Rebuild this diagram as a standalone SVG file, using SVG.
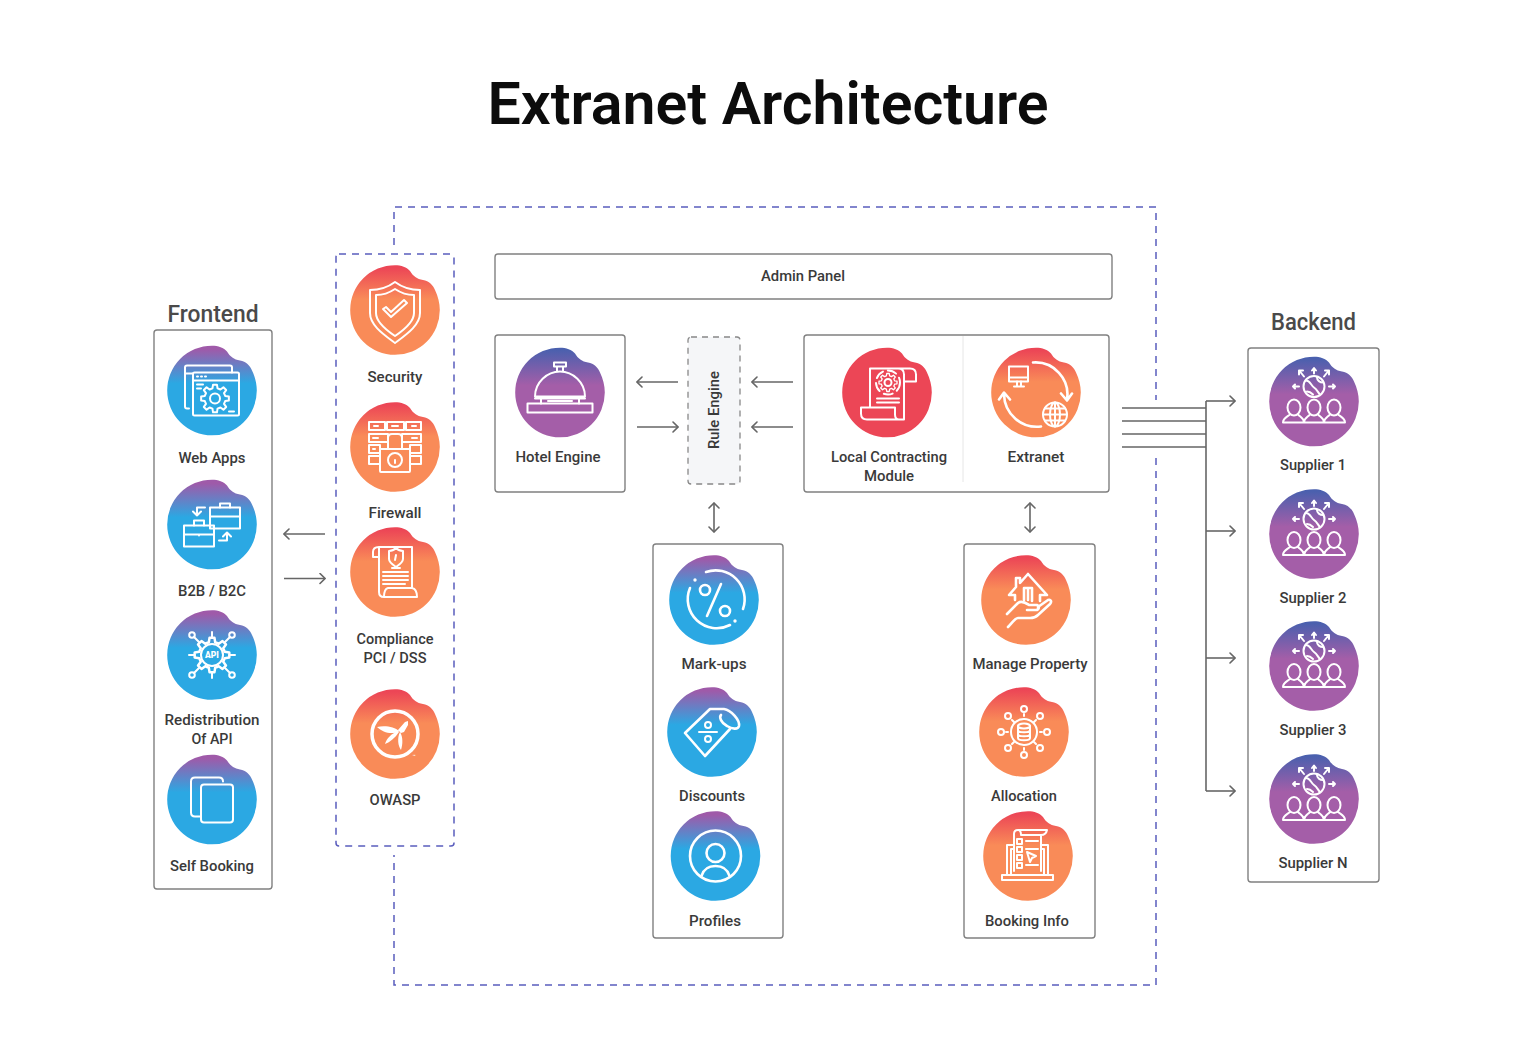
<svg xmlns="http://www.w3.org/2000/svg" width="1536" height="1046" viewBox="0 0 1536 1046">
<style>
text{font-family:Roboto,"Liberation Sans",sans-serif;font-weight:500;font-size:15.5px;fill:#3a3a3a;text-anchor:middle}
.title{font-size:60px;font-weight:600;fill:#0c0c0c}
.head{font-size:23px;font-weight:500;fill:#4a4a4a}
.box{fill:#fff;stroke:#808080;stroke-width:1.4}
.ic{fill:none;stroke:#fff;stroke-width:2;stroke-linecap:round;stroke-linejoin:round}
.thk{stroke-width:2.600}
.icf{fill:#fff;stroke:none}
.ln{fill:none;stroke:#666;stroke-width:1.600}
.dash{fill:none;stroke:#5a5dbd;stroke-width:1.500;stroke-dasharray:7 6}
.api{font-size:8.500px;font-weight:900;fill:#fff}
.tm{font-size:5px;fill:#fff}
</style>
<defs>
<linearGradient id="gBlue" x1="0" y1="0" x2="0" y2="1"><stop offset="0.04" stop-color="#9f5aa9"/><stop offset="0.42" stop-color="#2ba8e3"/></linearGradient>
<linearGradient id="gOrange" x1="0" y1="0" x2="0" y2="1"><stop offset="0.03" stop-color="#ec4656"/><stop offset="0.38" stop-color="#f98b58"/></linearGradient>
<linearGradient id="gPurple" x1="0" y1="0" x2="0" y2="1"><stop offset="0.02" stop-color="#4a60ae"/><stop offset="0.42" stop-color="#a45ea8"/></linearGradient>
<path id="blob" d="M-44.800,0A44.800,44.800 0 0 1 0,-44.800C6,-44.800 12,-43 15,-39C18,-34 22,-31 28,-30C34,-29 38,-25 40,-20C43,-14 44.800,-7 44.800,0A44.800,44.800 0 0 1 -44.800,0Z"/>
<polygon id="gear" class="ic" points="10.19,-2.54 13.86,-1.95 13.86,1.95 10.19,2.54 9,5.41 11.18,8.43 8.43,11.18 5.41,9 2.54,10.19 1.95,13.86 -1.95,13.86 -2.54,10.19 -5.41,9 -8.43,11.18 -11.18,8.43 -9,5.41 -10.19,2.54 -13.86,1.95 -13.86,-1.95 -10.19,-2.54 -9,-5.41 -11.18,-8.43 -8.43,-11.18 -5.41,-9 -2.54,-10.19 -1.95,-13.86 1.95,-13.86 2.54,-10.19 5.41,-9 8.43,-11.18 11.18,-8.43 9,-5.41"/>
<marker id="ah" viewBox="0 0 10 12" refX="9" refY="6" markerWidth="10" markerHeight="12" markerUnits="userSpaceOnUse" orient="auto-start-reverse"><path d="M4,1L9,6L4,11" fill="none" stroke="#666" stroke-width="1.600" stroke-linecap="round"/></marker>
<g id="supplier">
<circle class="ic" cy="-15" r="10.500"/>
<path class="ic" d="M-8,-21C-4,-21 -3,-16 0,-14C3,-12 4,-9 6,-7M-7,-10C-5,-10 -3,-9 -1,-7M3,-24C3,-21 6,-19 9,-19"/>
<path class="ic" d="M0,-28V-33M-2,-31L0,-33.500L2,-31M-10,-25L-14,-30M-15,-27V-31H-11M10,-25L14,-30M15,-27V-31H11M-15,-15H-21M-19,-17L-21,-15L-19,-13M15,-15H21M19,-17L21,-15L19,-13"/>
<ellipse class="ic" cx="-20" cy="6" rx="6.500" ry="8"/><ellipse class="ic" cy="6" rx="6.500" ry="8"/><ellipse class="ic" cx="20" cy="6" rx="6.500" ry="8"/>
<path class="ic" d="M-31,21H31M-31,21C-31,17 -28,16 -24,13M-16,13C-13,16 -10,17 -10,21C-10,17 -7,16 -4,13M4,13C7,16 10,17 10,21C10,17 13,16 16,13M24,13C28,16 31,17 31,21"/>
</g>
</defs>

<g id="title"><text class="title" x="768" y="124" textLength="561" lengthAdjust="spacingAndGlyphs">Extranet Architecture</text></g>

<g id="connectors">
<path class="dash" d="M394,245V207H1156V400M1156,458V985H394V855"/>
<path class="ln" marker-end="url(#ah)" d="M325,534H284"/>
<path class="ln" marker-end="url(#ah)" d="M284,578.500H325"/>
<path class="ln" marker-end="url(#ah)" d="M678,382H637"/>
<path class="ln" marker-end="url(#ah)" d="M637,427H678"/>
<path class="ln" marker-end="url(#ah)" d="M793,382H752"/>
<path class="ln" marker-end="url(#ah)" d="M793,427H752"/>
<path class="ln" marker-start="url(#ah)" marker-end="url(#ah)" d="M714,503V532"/>
<path class="ln" marker-start="url(#ah)" marker-end="url(#ah)" d="M1030,503V532"/>
<path class="ln" d="M1122,408H1206M1122,421H1206M1122,434H1206M1122,447H1206"/>
<path class="ln" d="M1206,401V791"/>
<path class="ln" marker-end="url(#ah)" d="M1206,401H1235"/>
<path class="ln" marker-end="url(#ah)" d="M1206,531H1235"/>
<path class="ln" marker-end="url(#ah)" d="M1206,658H1235"/>
<path class="ln" marker-end="url(#ah)" d="M1206,791H1235"/>
</g>

<g id="frontend">
<text class="head" x="213" y="322" textLength="91" lengthAdjust="spacingAndGlyphs">Frontend</text>
<rect class="box" x="154" y="330" width="118" height="559" rx="3"/>
</g>
<g id="web-apps">
<g transform="translate(212,390.500)"><use href="#blob" fill="url(#gBlue)"/>
<path class="ic" d="M-23,18H-25Q-27,18 -27,16V-23Q-27,-25 -25,-25H18Q20,-25 20,-23V-18M-27,-17H-19"/>
<rect class="ic" x="-19" y="-18" width="46" height="43" rx="1.500"/><path class="ic" d="M-19,-10H27M-15,-14H-14M-11,-14H-10M-7,-14H-6M-15,-6H-9M-15,-2H-11M17,21H22"/>
<use href="#gear" transform="translate(3,8)"/><circle class="ic" cx="3" cy="8" r="5"/></g>
<text x="212" y="463" textLength="67" lengthAdjust="spacingAndGlyphs">Web Apps</text>
</g>
<g id="b2b-b2c">
<g transform="translate(212,524.500)"><use href="#blob" fill="url(#gBlue)"/>
<rect class="ic" x="-2" y="-17" width="30" height="21"/><path class="ic" d="M-2,-8H28M8,-17V-21H18V-17"/>
<rect class="ic" x="-28" y="1" width="30" height="21"/><path class="ic" d="M-28,10H2M-18,1V-4H-8V1M-13,10V11"/>
<path class="ic" d="M-7,-17H-15V-9M-19,-13L-15,-9L-11,-13M7,16H15V8M11,12L15,8L19,12"/></g>
<text x="212" y="596" textLength="68" lengthAdjust="spacingAndGlyphs">B2B / B2C</text>
</g>
<g id="redistribution-of-api">
<g transform="translate(212,655)"><use href="#blob" fill="url(#gBlue)"/>
<use href="#gear" transform="scale(1.250)"/><circle class="ic" r="11"/>
<text class="api" y="3">API</text>
<path class="ic" d="M-13,-13L-18,-18M13,-13L18,-18M-13,13L-18,18M13,13L18,18M0,-18V-23M0,18V23M-18,0H-23M18,0H23"/>
<circle class="ic" cx="-20" cy="-20" r="2.800"/><circle class="ic" cx="20" cy="-20" r="2.800"/><circle class="ic" cx="-20" cy="20" r="2.800"/><circle class="ic" cx="20" cy="20" r="2.800"/></g>
<text x="212" y="725" textLength="95" lengthAdjust="spacingAndGlyphs">Redistribution</text>
<text x="212" y="744" textLength="41" lengthAdjust="spacingAndGlyphs">Of API</text>
</g>
<g id="self-booking">
<g transform="translate(212,799.500)"><use href="#blob" fill="url(#gBlue)"/>
<path class="ic" d="M-12,17H-17Q-21,17 -21,13V-18Q-21,-22 -17,-22H7Q11,-22 11,-18"/>
<rect class="ic" x="-11" y="-15" width="32" height="38" rx="3"/></g>
<text x="212" y="871" textLength="84" lengthAdjust="spacingAndGlyphs">Self Booking</text>
</g>

<g id="security-group"><rect x="336" y="254" width="118" height="592" rx="3" class="dash"/></g>
<g id="security">
<g transform="translate(395,310)"><use href="#blob" fill="url(#gOrange)"/>
<path class="ic" d="M0,-28C8,-22 16,-20 25,-20V3C25,15 12,24 0,33C-12,24 -25,15 -25,3V-20C-16,-20 -8,-22 0,-28Z"/>
<path class="ic" d="M0,-21C6,-17 13,-15 19,-15V3C19,12 9,20 0,26C-9,20 -19,12 -19,3V-15C-13,-15 -6,-17 0,-21Z"/>
<path class="ic" d="M-12,-1L-4,7L12,-7L9,-10L-4,2L-9,-3Z"/></g>
<text x="395" y="382" textLength="55" lengthAdjust="spacingAndGlyphs">Security</text>
</g>
<g id="firewall">
<g transform="translate(395,447)"><use href="#blob" fill="url(#gOrange)"/>
<path class="ic" d="M-26,-25H-10V-17H-26ZM-8,-25H9V-17H-8ZM11,-25H26V-17H11ZM-26,-13H-7V-5H-26ZM7,-13H26V-5H7ZM-26,-2H-15V6H-26ZM15,-2H26V6H15ZM-26,9H-15V17H-26ZM15,9H26V17H15Z"/>
<path class="ic" d="M-7,2V-9Q-7,-13 -3,-13H3Q7,-13 7,-9V2"/>
<rect class="ic" x="-15" y="2" width="30" height="23" rx="1"/><circle class="ic" cy="13" r="7"/><path class="ic" d="M0,13V16M-21,-21H-17M17,-21H21M-3,-21H3M-22,-9H-17M17,-9H22M-22,2H-20"/></g>
<text x="395" y="518" textLength="53" lengthAdjust="spacingAndGlyphs">Firewall</text>
</g>
<g id="compliance">
<g transform="translate(395,572)"><use href="#blob" fill="url(#gOrange)"/>
<path class="ic" d="M-16,20V-25H17V16M-16,-25Q-22,-25 -22,-20V-15H-16M-16,20Q-16,25 -11,25H22Q22,17 17,16H-7Q-11,17 -11,25"/>
<path class="ic" d="M1,-24C4,-21 6,-21 8,-21V-13C8,-10 4,-7 1,-5C-2,-7 -6,-10 -6,-13V-21C-4,-21 -2,-21 1,-24ZM1,-17L0,-12"/>
<path class="ic" d="M-3,-4H5M-12,0H13M-12,4H13M-12,8H13M-12,12H10"/></g>
<text x="395" y="644" textLength="77" lengthAdjust="spacingAndGlyphs">Compliance</text>
<text x="395" y="663" textLength="63" lengthAdjust="spacingAndGlyphs">PCI / DSS</text>
</g>
<g id="owasp">
<g transform="translate(395,734)"><use href="#blob" fill="url(#gOrange)"/>
<circle class="ic" r="23" style="stroke-width:3.500"/>
<path class="icf" d="M-18,-7C-10,-9 0,-7 4,-3C-2,1 -12,-1 -18,-7ZM4,-2C0,4 -5,8 -10,10C-8,4 -4,0 3,-3ZM5,-2C8,3 8,10 6,16C3,12 2,4 5,-2ZM3,-4L10,-12L13,-13L13,-9L9,-2L6,-1Z"/>
<text class="tm" x="19" y="24">™</text></g>
<text x="395" y="805" textLength="51" lengthAdjust="spacingAndGlyphs">OWASP</text>
</g>

<g id="admin-panel"><rect class="box" x="495" y="254" width="617" height="45" rx="3"/>
<text x="803" y="281" textLength="84" lengthAdjust="spacingAndGlyphs">Admin Panel</text></g>

<g id="hotel-engine"><rect class="box" x="495" y="335" width="130" height="157" rx="3"/>
<g transform="translate(560,392.500)"><use href="#blob" fill="url(#gPurple)"/>
<rect class="ic" x="-32.500" y="11" width="65" height="9"/>
<path class="ic" d="M-25,4C-25,-10 -13,-21 0,-21C13,-21 25,-10 25,4ZM-25,6H25M-19,6V11M19,6V11M-12,8.500H12M-3,-21V-26H3V-21M-6,-26H6V-30H-6Z"/></g>
<text x="558" y="462" textLength="85" lengthAdjust="spacingAndGlyphs">Hotel Engine</text></g>

<g id="rule-engine"><rect x="688" y="337" width="52" height="147" rx="3" fill="#f5f6f8" stroke="#888" stroke-width="1.300" stroke-dasharray="6 5"/>
<text transform="translate(719,410) rotate(-90)" textLength="78" lengthAdjust="spacingAndGlyphs">Rule Engine</text></g>

<g id="local-extranet-box"><rect class="box" x="804" y="335" width="305" height="157" rx="3"/><path d="M963,336V482" stroke="#e6e6e6" stroke-width="1" fill="none"/></g>
<g id="local-contracting">
<g transform="translate(887,392.500)"><use href="#blob" fill="#ec4656"/>
<path class="ic" d="M-17,15V-24H23Q29,-24 29,-18V-11H17V-18Q17,-24 11,-24M17,-11V27H12Q8,27 8,22V15H-26V21Q-26,27 -20,27H12"/>
<use href="#gear" transform="translate(1,-10) scale(.650)"/><circle class="ic" cx="1" cy="-10" r="3.500"/><circle class="ic" cx="1" cy="-10" r="12" stroke-dasharray="9 5"/>
<path class="ic" d="M-10,6H12M-10,10H12"/></g>
<text x="889" y="462" textLength="116" lengthAdjust="spacingAndGlyphs">Local Contracting</text>
<text x="889" y="481" textLength="50" lengthAdjust="spacingAndGlyphs">Module</text>
</g>
<g id="extranet">
<g transform="translate(1036,392.500)"><use href="#blob" fill="url(#gOrange)"/>
<rect class="ic" x="-27" y="-26" width="19" height="15"/><path class="ic" d="M-27,-15H-8M-19,-11V-7M-15,-11V-7M-22,-6H-12"/>
<path class="ic thk" d="M-3,-30A32,32 0 0 1 31,7M25,1L31,8L36,1M5,34A33,33 0 0 1 -32,2M-37,7L-32,0L-26,7"/>
<circle class="ic" cx="19" cy="22" r="12"/><ellipse class="ic" cx="19" cy="22" rx="5" ry="12"/><path class="ic" d="M7,22H31M9,16H29M9,28H29M19,10V34"/></g>
<text x="1036" y="462" textLength="57" lengthAdjust="spacingAndGlyphs">Extranet</text>
</g>

<g id="markups-box"><rect class="box" x="653" y="544" width="130" height="394" rx="3"/></g>
<g id="mark-ups">
<g transform="translate(714,600)"><use href="#blob" fill="url(#gBlue)"/>
<path class="ic thk" d="M-24,-12A29,29 0 0 0 16,25M-8,-28A29,29 0 0 1 29,9"/>
<circle class="icf" cx="-19" cy="-20" r="1.700"/><circle class="icf" cx="21" cy="21" r="1.700"/>
<circle class="ic thk" cx="-9" cy="-10" r="5"/><circle class="ic thk" cx="11" cy="11" r="5"/><path class="ic thk" d="M7,-16L-7,16"/></g>
<text x="714" y="669" textLength="65" lengthAdjust="spacingAndGlyphs">Mark-ups</text>
</g>
<g id="discounts">
<g transform="translate(712,732)"><use href="#blob" fill="url(#gBlue)"/>
<path class="ic thk" d="M-27,1L-2,-23H12M18,-3L-7,24L-27,1M12,-23C19,-22 28,-12 27,-6C26,-2 20,-3 15,-6C9,-9 7,-15 9,-17"/>
<path class="ic" d="M-13,0H5"/><circle class="ic" cx="-4" cy="-7" r="3"/><circle class="ic" cx="-4" cy="7" r="3"/></g>
<text x="712" y="801" textLength="66" lengthAdjust="spacingAndGlyphs">Discounts</text>
</g>
<g id="profiles">
<g transform="translate(715.500,856)"><use href="#blob" fill="url(#gBlue)"/>
<circle class="ic thk" r="25.500"/><circle class="ic thk" cy="-3" r="9"/><path class="ic thk" d="M-14,20C-12,13 -7,10 0,10C7,10 12,13 14,20"/></g>
<text x="715" y="926" textLength="52" lengthAdjust="spacingAndGlyphs">Profiles</text>
</g>

<g id="manage-box"><rect class="box" x="964" y="544" width="131" height="394" rx="3"/></g>
<g id="manage-property">
<g transform="translate(1026,600)"><use href="#blob" fill="url(#gOrange)"/>
<path class="ic thk" d="M-11,-5H-17L-10,-13V-22H-6V-17L2,-26L21,-5H14V1M-11,-5V0M-2,0V-12H6V1M2,-12V0"/>
<path class="ic thk" d="M-19,14L-8,3C-4,0 0,3 3,5H11C14,6 13,10 10,10H1M12,7L22,0C25,-1 26,2 24,4L12,15C10,17 7,18 4,18H-8C-11,18 -15,24 -18,27"/></g>
<text x="1030" y="669" textLength="115" lengthAdjust="spacingAndGlyphs">Manage Property</text>
</g>
<g id="allocation">
<g transform="translate(1024,732)"><use href="#blob" fill="url(#gOrange)"/>
<circle class="ic" r="13"/><ellipse class="ic" cy="-6" rx="6" ry="2.500"/><path class="ic" d="M-6,-6V6C-6,9 6,9 6,6V-6M-6,-2C-6,1 6,1 6,-2M-6,2C-6,5 6,5 6,2"/>
<circle class="ic" cy="-23" r="3"/><circle class="ic" cy="23" r="3"/><circle class="ic" cx="-23" r="3"/><circle class="ic" cx="23" r="3"/><circle class="ic" cx="-16" cy="-16" r="3"/><circle class="ic" cx="16" cy="-16" r="3"/><circle class="ic" cx="-16" cy="16" r="3"/><circle class="ic" cx="16" cy="16" r="3"/>
<path class="ic" d="M0,-18V-16M0,16V18M-18,0H-16M16,0H18M-12,-12L-10,-10M12,-12L10,-10M-12,12L-10,10M12,12L10,10"/></g>
<text x="1024" y="801" textLength="66" lengthAdjust="spacingAndGlyphs">Allocation</text>
</g>
<g id="booking-info">
<g transform="translate(1028,856)"><use href="#blob" fill="url(#gOrange)"/>
<path class="ic" d="M-26,19H25V24H-26ZM-21,19V-11H-14M-17,19V-7H-14M20,19V-11H13M16,19V-7H13"/>
<path class="ic" d="M-14,15V-22Q-14,-26 -10,-26H19Q18,-21 13,-21V15M-10,-26Q-7,-26 -7,-21H13"/>
<path class="ic" d="M-11,-17H-6V-12H-11ZM-11,-9H-6V-4H-11ZM-11,-1H-6V4H-11ZM-11,7H-6V12H-11ZM-2,-15H10M-2,-7H10M-2,9H10M-1,-4L8,0L4,2L2,6Z"/></g>
<text x="1027" y="926" textLength="84" lengthAdjust="spacingAndGlyphs">Booking Info</text>
</g>

<g id="backend">
<text class="head" x="1313.500" y="330" textLength="85" lengthAdjust="spacingAndGlyphs">Backend</text>
<rect class="box" x="1248" y="348" width="131" height="534" rx="3"/>
</g>
<g id="supplier-1"><g transform="translate(1314,401.500)"><use href="#blob" fill="url(#gPurple)"/><use href="#supplier"/></g>
<text x="1313" y="470" textLength="66" lengthAdjust="spacingAndGlyphs">Supplier 1</text></g>
<g id="supplier-2"><g transform="translate(1314,534)"><use href="#blob" fill="url(#gPurple)"/><use href="#supplier"/></g>
<text x="1313" y="603" textLength="67" lengthAdjust="spacingAndGlyphs">Supplier 2</text></g>
<g id="supplier-3"><g transform="translate(1314,666)"><use href="#blob" fill="url(#gPurple)"/><use href="#supplier"/></g>
<text x="1313" y="735" textLength="67" lengthAdjust="spacingAndGlyphs">Supplier 3</text></g>
<g id="supplier-n"><g transform="translate(1314,799)"><use href="#blob" fill="url(#gPurple)"/><use href="#supplier"/></g>
<text x="1313" y="868" textLength="69" lengthAdjust="spacingAndGlyphs">Supplier N</text></g>
</svg>
